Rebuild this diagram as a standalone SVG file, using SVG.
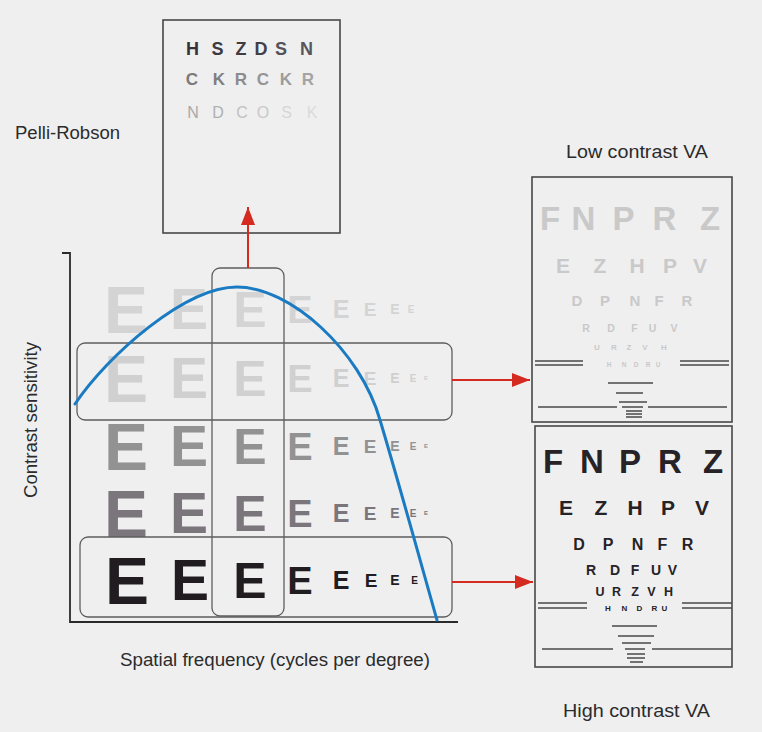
<svg xmlns="http://www.w3.org/2000/svg" width="762" height="732" viewBox="0 0 762 732">
<defs>
<style>
text{font-family:"Liberation Sans",Arial,sans-serif}
.lbl{fill:#2b2b2b;font-size:17.5px}
.e{font-weight:bold;text-anchor:middle}
.r1{fill:#d4d4d4}.r2{fill:#d0d0d0}.r3{fill:#929292}.r4{fill:#7b767c}.r5{fill:#211c20}
.c1{font-size:66px}.c2{font-size:57px}.c3{font-size:50px}.c4{font-size:38px}.c5{font-size:25px}.c6{font-size:19px}.c7{font-size:14px}.c8{font-size:10px}.c9{font-size:6px}
.box{fill:none;stroke:#5e5e5e;stroke-width:1.3}
.chart{fill:none;stroke:#484848;stroke-width:1.6}
.rule{stroke:#4a4a4a;stroke-width:1.3}
.lc{font-weight:bold;text-anchor:middle;fill:#c9c9c9}
.hc{font-weight:bold;text-anchor:middle;fill:#262226}
.pr{font-weight:bold;text-anchor:middle}
.arrow{stroke:#d42a20;stroke-width:2;fill:none;marker-end:url(#ah)}
</style>
<marker id="ah" markerUnits="userSpaceOnUse" markerWidth="20" markerHeight="14" refX="18" refY="7" orient="auto">
<path d="M0,0 L18,7 L0,14 z" fill="#d42a20"/>
</marker>
</defs>
<rect width="762" height="732" fill="#efeff0"/>

<g id="pelli-robson">
<rect class="chart" x="163" y="20" width="177" height="213"/>
<text class="pr" y="55" font-size="18"><tspan x="192.5" fill="#3a3038">H</tspan><tspan x="217.5" fill="#3c3a40">S</tspan><tspan x="241" fill="#403c42">Z</tspan><tspan x="261" fill="#423e44">D</tspan><tspan x="281" fill="#555258">S</tspan><tspan x="306.5" fill="#5a5660">N</tspan></text>
<text class="pr" y="85" font-size="17"><tspan x="192" fill="#7a7a7a">C</tspan><tspan x="219" fill="#808080">K</tspan><tspan x="241" fill="#8c8c8c">R</tspan><tspan x="263" fill="#959595">C</tspan><tspan x="286" fill="#9c9c9c">K</tspan><tspan x="308" fill="#a4a4a4">R</tspan></text>
<text text-anchor="middle" y="118" font-size="16"><tspan x="193" fill="#a9a9a9">N</tspan><tspan x="218" fill="#b0b0b0">D</tspan><tspan x="242" fill="#c0c0c0">C</tspan><tspan x="263" fill="#c8c8c8">O</tspan><tspan x="286.5" fill="#d6d6d6">S</tspan><tspan x="312" fill="#dadada">K</tspan></text>
</g>
<text id="label-pelli" class="lbl" x="15" y="139" textLength="105" lengthAdjust="spacingAndGlyphs">Pelli-Robson</text>

<g id="csf-grid">
<text class="e r1 c1" x="126" y="332.6">E</text><text class="e r1 c2" x="189" y="329.4">E</text><text class="e r1 c3" x="250" y="326.9">E</text><text class="e r1 c4" x="300" y="322.6">E</text><text class="e r1 c5" x="341" y="318">E</text><text class="e r1 c6" x="370" y="315.8">E</text><text class="e r1 c7" x="395" y="314">E</text><text class="e r1 c8" x="411" y="312.6">E</text>
<text class="e r2 c1" x="126" y="401.6">E</text><text class="e r2 c2" x="189" y="398.4">E</text><text class="e r2 c3" x="250" y="395.9">E</text><text class="e r2 c4" x="300" y="391.6">E</text><text class="e r2 c5" x="341" y="387">E</text><text class="e r2 c6" x="370" y="384.8">E</text><text class="e r2 c7" x="395" y="383">E</text><text class="e r2 c8" x="413" y="381.6">E</text><text class="e r2 c9" x="426" y="380.1">E</text>
<text class="e r3 c1" x="126" y="469.6">E</text><text class="e r3 c2" x="189" y="466.4">E</text><text class="e r3 c3" x="250" y="463.9">E</text><text class="e r3 c4" x="300" y="459.6">E</text><text class="e r3 c5" x="341" y="455">E</text><text class="e r3 c6" x="370" y="452.8">E</text><text class="e r3 c7" x="395" y="451">E</text><text class="e r3 c8" x="413" y="449.6">E</text><text class="e r3 c9" x="426" y="448.1">E</text>
<text class="e r4 c1" x="126" y="536.6">E</text><text class="e r4 c2" x="189" y="533.4">E</text><text class="e r4 c3" x="250" y="530.9">E</text><text class="e r4 c4" x="300" y="526.6">E</text><text class="e r4 c5" x="341" y="522">E</text><text class="e r4 c6" x="370" y="519.8">E</text><text class="e r4 c7" x="395" y="518">E</text><text class="e r4 c8" x="413" y="516.6">E</text><text class="e r4 c9" x="426" y="515.1">E</text>
<text class="e r5 c1" x="127" y="603.6">E</text><text class="e r5 c2" x="190" y="600.4">E</text><text class="e r5 c3" x="250" y="597.9">E</text><text class="e r5 c4" x="300" y="593.6">E</text><text class="e r5 c5" x="341" y="589">E</text><text class="e r5 c6" x="371" y="586.8">E</text><text class="e r5 c7" x="395" y="585">E</text><text class="e r5 c8" x="414.5" y="583.6">E</text>
</g>

<g id="selection-boxes">
<rect id="box-peak" class="box" x="212" y="268" width="72" height="348" rx="8"/>
<rect id="box-low" class="box" x="77" y="343" width="375" height="77" rx="8"/>
<rect id="box-high" class="box" x="80" y="537" width="372" height="80" rx="8"/>
</g>

<g id="axes">
<path d="M62,253 H70 V622 H458" fill="none" stroke="#2a2a2a" stroke-width="1.8"/>
<text class="lbl" transform="translate(37,498) rotate(-90)" textLength="156" lengthAdjust="spacingAndGlyphs">Contrast sensitivity</text>
<text class="lbl" x="120" y="666" font-size="18" textLength="310" lengthAdjust="spacingAndGlyphs">Spatial frequency (cycles per degree)</text>
</g>

<g id="csf-curve">
<path d="M75,404 C108,355 185,287 237,287 C290,287 360,350 380,420 C398,480 420,560 437,620" fill="none" stroke="#1a7bc2" stroke-width="3" stroke-linecap="round"/>
</g>

<g id="connectors">
<line class="arrow" x1="248" y1="268" x2="248" y2="207"/>
<line class="arrow" x1="452" y1="380" x2="530" y2="380"/>
<line class="arrow" x1="452" y1="582" x2="533" y2="582"/>
</g>

<g id="low-contrast-va">
<rect class="chart" x="532" y="177" width="200" height="245"/>
<text class="lc" x="550 583.5 623.5 664.5 710" y="230" font-size="33">FNPRZ</text>
<text class="lc" x="563 600 637 670 700" y="273" font-size="21">EZHPV</text>
<text class="lc" x="577 605 635 659 687" y="306" font-size="15">DPNFR</text>
<text class="lc" x="586 611 634.5 652.5 674" y="332" font-size="10.5">RDFUV</text>
<text class="lc" x="597 614 629 645 664" y="350" font-size="8">URZVH</text>
<text class="lc" x="609 624 636 648 658" y="367" font-size="6.5">HNDRU</text>
<path class="rule" d="M535,361H583M535,365H583M680,361H729M680,365H729M608,383H653M616,393H643M619,402H647M538,407H617M648,407H727M622,407H643M626,411H642M626,414H642M626,417H642"/>
</g>
<text id="label-low" class="lbl" x="566" y="158" font-size="18" textLength="142" lengthAdjust="spacingAndGlyphs">Low contrast VA</text>

<g id="high-contrast-va">
<rect class="chart" x="535" y="426" width="197" height="241"/>
<text class="hc" x="553 592 630 670 713" y="473" font-size="33">FNPRZ</text>
<text class="hc" x="566 601 635 668 702" y="515" font-size="21">EZHPV</text>
<text class="hc" x="579 608 637.5 662.5 687.5" y="550" font-size="16">DPNFR</text>
<text class="hc" x="591 615 635 656 672.5" y="575" font-size="14">RDFUV</text>
<text class="hc" x="600 616.5 635 651.5 668.5" y="596" font-size="12.5">URZVH</text>
<text class="hc" x="608 624.5 639.5 654.5 664.5" y="611" font-size="8" fill="#3a363a">HNDRU</text>
<path class="rule" d="M538,603H587M538,608H587M682,603H732M682,608H732M612,626H657M618,636H654M622,643H651M542,649H613M652,649H732M625,649H645M627,654H645M627,658H645M630,662H643"/>
</g>
<text id="label-high" class="lbl" x="563" y="717" font-size="18" textLength="147" lengthAdjust="spacingAndGlyphs">High contrast VA</text>
</svg>
